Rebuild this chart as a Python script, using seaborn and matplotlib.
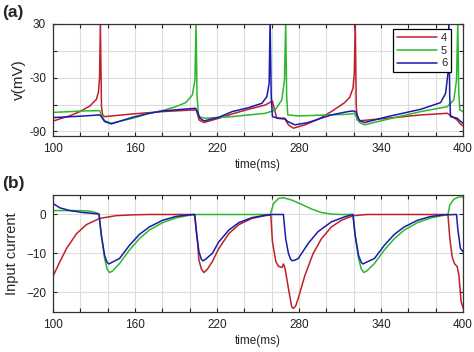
import numpy as np
import pandas as pd
import matplotlib
matplotlib.use("Agg")
import matplotlib.pyplot as plt
import seaborn as sns

# membrane potential traces, (time ms, mV)
red_v_t = [100, 106, 112, 119.6, 126.9, 131.7, 133.2, 134.0, 134.6, 135.4, 136.2, 137.7, 158.3, 180, 199.5,
           204.8, 206.8, 210.4, 221.3, 231, 243.1, 255.2, 259.5, 260.5, 262, 263.7, 269.7, 272.2, 275.8,
           284.3, 294, 303.6, 313.3, 317, 319.4, 320.4, 321.1, 321.8, 322.5, 325.4, 344.8, 369, 388.4,
           392, 395.7, 397.5, 400]
red_v = [-78.5, -75.5, -72.7, -67.9, -61.6, -54.2, -46, -30, 32, -62, -71.6, -73.5, -70.5, -67.9, -66.3,
         -66, -77.2, -80.1, -75.3, -70.5, -65.3, -60.5, -57, -56.1, -66, -75.3, -76.4, -82.7, -86.4,
         -82.7, -76.4, -67.9, -57.9, -52, -42, -25, 32, -60, -77.2, -78, -75.3, -71.6, -69.8,
         -73.5, -77.2, -81, -84]

green_v_t = [100, 122, 134.1, 135.3, 137.7, 142.6, 158.3, 170.4, 180, 189.8, 197, 201.9, 203.8, 204.6,
             205.3, 206.5, 211, 231, 255.2, 259, 262.5, 267.3, 269.3, 270.2, 270.9, 271.7, 279.4, 315.7,
             320.6, 322.5, 324.2, 327.9, 344.8, 369, 388.4, 393.2, 395.2, 396.1, 396.8, 397.6, 400]
green_v = [-68.8, -67.2, -66.8, -72, -78, -80.9, -75.3, -69.8, -66.8, -62.4, -57.9, -49.4, -32.7, 32,
           -50, -73.5, -75.3, -73.5, -69.8, -68, -66, -54.9, -32.7, 32, -50, -71.6, -72.7, -70.9,
           -69.8, -76, -80, -82.7, -76.4, -67.9, -62.4, -54.9, -32.7, 32, -45, -66, -68]

blue_v_t = [100, 120, 134.1, 135.5, 137.7, 142.6, 158.3, 170.4, 180, 194.6, 204.3, 205.5, 207.5, 210.4,
            221.3, 231, 243.1, 252.8, 256.4, 258.1, 258.8, 259.6, 260.5, 264.9, 269.3, 271.7, 277, 286.7,
            294, 303.6, 315.7, 319.4, 321.5, 324.2, 327.9, 344.8, 369, 383.5, 387.2, 388.9, 389.6, 390.2,
            390.8, 395.7, 397.5, 400]
blue_v = [-74.6, -73, -71.6, -74, -79, -81.6, -74.2, -69.8, -67.2, -65.3, -64.2, -68, -75.3, -78.3,
          -74.2, -67.9, -63.5, -58.6, -51.2, -36.4, 35, -50, -73.5, -75.3, -75.3, -79, -82.7, -80.1,
          -76.4, -71.6, -67.9, -67.2, -68, -77.9, -80.1, -73.5, -65.3, -57.9, -47.5, -25.3, 35, -50,
          -73.5, -75.3, -78, -81]

# input current traces
red_i_t = [100, 105, 109.9, 117.2, 124.4, 134.1, 146.2, 158, 170, 203.6, 204.5, 205.5, 206.7, 208.5, 210.4,
           213, 216.5, 221.3, 228.6, 235.9, 245.5, 255.2, 259.3, 260.5, 263, 264.9, 267.5, 268.6, 269.7,
           272.2, 274.6, 275.8, 277.5, 279.4, 284.3, 290.3, 296.4, 303.6, 310.9, 315.7, 320, 330, 388.9,
           390.3, 392, 393.7, 395.7, 396.9, 398.6, 400]
red_i = [-15.8, -12.1, -8.7, -4.9, -2.6, -1, -0.3, -0.1, 0, 0, -3, -6.2, -11.7, -14, -14.9,
         -14, -12.1, -8.7, -4.9, -2.6, -1, -0.3, -0.1, -7, -12.1, -13.3, -13.6, -12.7, -13.8,
         -19, -23.7, -24.1, -23.5, -21.5, -15.6, -10, -6.2, -3.2, -1.5, -0.8, -0.3, 0, 0,
         -6.2, -10.9, -12.6, -13.4, -15.6, -22.4, -24]

green_i_t = [100, 120, 128, 132.9, 133.6, 135.3, 137.7, 139.5, 141.4, 143.5, 148.6, 155.9, 163.2, 170.4,
             180.1, 189.8, 199.5, 205, 258.9, 261.3, 264.9, 268.5, 274.6, 281.9, 289.1, 296.4, 303.6, 310,
             319.4, 321, 323.5, 325.5, 327.4, 329.5, 335.1, 342.4, 349.7, 356.9, 366.6, 376.3, 386, 388.9,
             390.3, 393.2, 396.9, 400]
green_i = [1.0, 1.0, 0.8, 0.3, 0, -5.3, -11.3, -14, -14.9, -14.5, -12.6, -9.1, -6.2, -4,
           -2.1, -0.9, -0.2, 0, 0, 2.8, 4.1, 4.3, 3.7, 2.6, 1.4, 0.5, 0.1, 0,
           0, -5.3, -11.3, -14, -14.9, -14.5, -12.6, -9.1, -6.2, -4, -2.1, -0.9, -0.2, 0,
           2.4, 3.9, 4.5, 4.5]

blue_i_t = [100, 105, 112.3, 122, 131.7, 133.6, 135.3, 137.7, 139.5, 140.9, 143, 148.6, 155.9, 163.2,
            170.4, 180.1, 189.8, 199.5, 203.6, 205, 206.7, 208.5, 209.6, 211.5, 216.5, 221.3, 228.6,
            235.9, 245.5, 255.2, 260, 268.5, 270.2, 272.2, 273.8, 275.1, 277, 279.4, 286.7, 293.9,
            303.6, 313.3, 319.4, 321, 323.5, 325.5, 326.7, 329, 335.1, 342.4, 349.7, 356.9, 366.6,
            376.3, 386, 395.2, 396.1, 398, 400]
blue_i = [2.8, 1.7, 1.0, 0.5, 0.2, 0.1, -5.3, -10.5, -12.3, -12.7, -12.3, -11.3, -7.9, -5.1,
          -3.2, -1.5, -0.5, -0.1, 0, -5, -9.5, -11.5, -11.9, -11.5, -10, -7, -4,
          -2.1, -0.8, -0.2, 0, 0, -6.2, -10, -11.5, -11.9, -11.7, -11.3, -7.4, -4.4,
          -1.9, -0.6, 0, -5.3, -10.5, -12.3, -12.7, -12.3, -11.3, -7.9, -5.1, -3.2, -1.5,
          -0.5, -0.1, 0, -3.6, -8.7, -9.6]

cells = ["4", "5", "6"]
colors = ["#c0202a", "#2cb82c", "#1a1aae"]
x_ticks = list(range(100, 401, 20))
x_labels = [str(t) if (t - 100) % 60 == 0 else "" for t in x_ticks]
v_ticks = [-90, -60, -30, 0, 30]
v_labels = ["-90", "", "-30", "", "30"]
i_ticks = [-20, -10, 0]


def long_frame(pairs):
    rows = []
    for cell, (t, y) in zip(cells, pairs):
        rows.append(pd.DataFrame({"time": t, "value": y, "cell": cell}))
    return pd.concat(rows, ignore_index=True)


df_v = long_frame([(red_v_t, red_v), (green_v_t, green_v), (blue_v_t, blue_v)])
df_i = long_frame([(red_i_t, red_i), (green_i_t, green_i), (blue_i_t, blue_i)])

sns.set_theme(style="whitegrid")
plt.rcParams["font.family"] = ["Liberation Sans", "DejaVu Sans"]

fig = plt.figure(figsize=(4.74, 3.52), dpi=100)
ax1 = fig.add_axes([0.112, 0.614, 0.865, 0.318])
ax2 = fig.add_axes([0.112, 0.114, 0.865, 0.332])

pal = dict(zip(cells, colors))
sns.lineplot(data=df_v, x="time", y="value", hue="cell", palette=pal, estimator=None,
             linewidth=1.1, ax=ax1)
sns.lineplot(data=df_i, x="time", y="value", hue="cell", palette=pal, estimator=None,
             linewidth=1.1, ax=ax2, legend=False)

for ax in (ax1, ax2):
    ax.set_xlim(100, 400)
    ax.set_xticks(x_ticks)
    ax.set_xticklabels(x_labels)
    ax.grid(True, color="#dddddd", linewidth=0.8)
    ax.tick_params(direction="in", length=3, width=0.8, top=True, right=True,
                   bottom=True, left=True, labelsize=8.5, colors="#222222", pad=5)
    for s in ax.spines.values():
        s.set_color("#333333")
        s.set_linewidth(0.9)
    ax.set_xlabel("time(ms)", fontsize=8.5, labelpad=3)

ax1.set_ylim(-95, 30)
ax1.set_yticks(v_ticks)
ax1.set_yticklabels(v_labels)
ax1.set_ylabel("v(mV)", fontsize=11, labelpad=2)

ax2.set_ylim(-25, 5)
ax2.set_yticks(i_ticks)
ax2.set_ylabel("Input current", fontsize=10.5, labelpad=5)

leg = ax1.legend(loc="upper right", bbox_to_anchor=(0.971, 0.955), borderaxespad=0,
                 fontsize=8, handlelength=3.6, frameon=True, fancybox=False,
                 markerfirst=True, title=None, borderpad=0.35, labelspacing=0.25,
                 handletextpad=0.4)
leg.get_frame().set_edgecolor("black")
leg.get_frame().set_linewidth(0.9)
leg.get_frame().set_alpha(1)

fig.text(0.005, 0.965, "(a)", fontsize=12.5, fontweight="bold", va="center", ha="left")
fig.text(0.005, 0.48, "(b)", fontsize=12.5, fontweight="bold", va="center", ha="left")

fig.savefig("out.png", dpi=100)
